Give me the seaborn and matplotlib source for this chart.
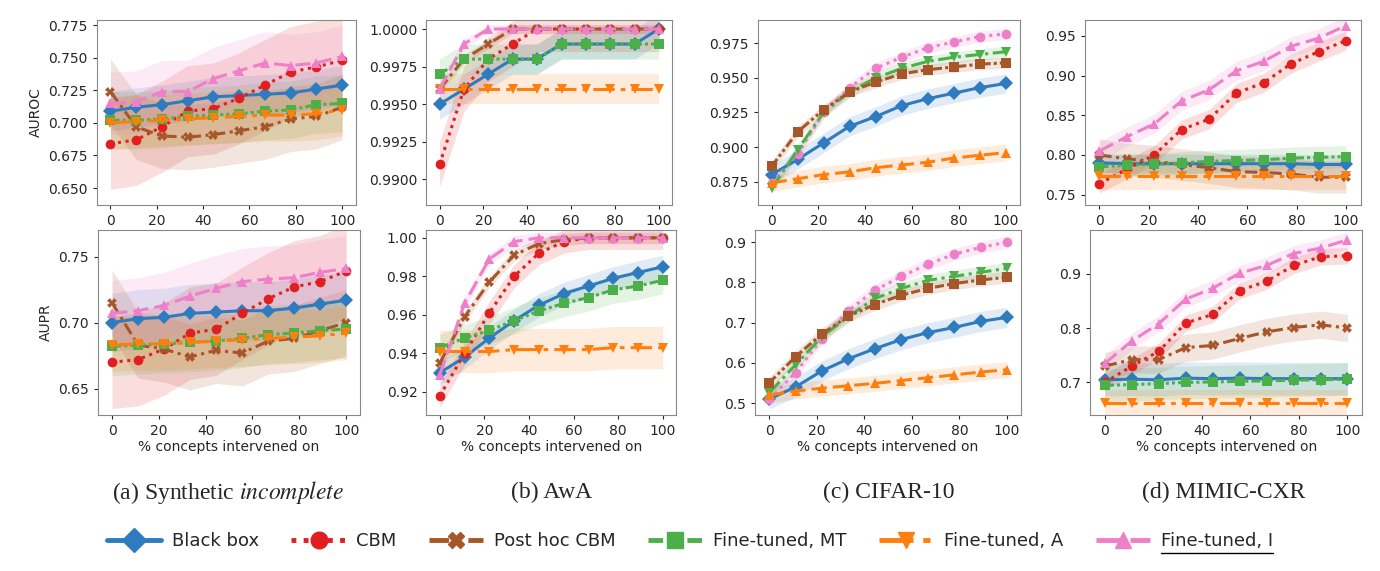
import numpy as np
import matplotlib
matplotlib.use("Agg")
import matplotlib.pyplot as plt
import seaborn as sns
from matplotlib.lines import Line2D

sns.set_style("white")
plt.rcParams["font.family"] = ["DejaVu Sans"]
plt.rcParams["mathtext.fontset"] = "stix"

X = [0, 11.1, 22.2, 33.3, 44.4, 55.6, 66.7, 77.8, 88.9, 100]

SERIES = ["Black box", "CBM", "Post hoc CBM", "Fine-tuned, MT", "Fine-tuned, A", "Fine-tuned, I"]
COLORS = ["#2f7bbf", "#e02020", "#a65628", "#4daf4a", "#ff7f0e", "#ee7fc8"]
MARKERS = ["D", "o", "X", "s", "v", "^"]
DASHES = ["-", (0, (1, 1.5)), (0, (4, 1.5, 1, 1.5)), (0, (3, 1, 1, 1, 1, 1)), (0, (7, 2, 1.5, 2)), (0, (5, 2))]

# panel data: series values per method, half-width of the shaded band
synth_auroc = {
    "Black box": [.709, .712, .714, .717, .720, .721, .722, .723, .726, .729],
    "CBM": [.684, .687, .697, .709, .711, .719, .729, .739, .743, .748],
    "Post hoc CBM": [.724, .697, .690, .689, .691, .694, .697, .703, .705, .712],
    "Fine-tuned, MT": [.702, .702, .703, .705, .706, .707, .709, .710, .714, .715],
    "Fine-tuned, A": [.700, .701, .702, .703, .704, .705, .706, .706, .707, .710],
    "Fine-tuned, I": [.715, .716, .724, .724, .734, .740, .746, .744, .746, .751],
}
synth_auroc_band = [.015, .035, .025, .022, .02, .024]

synth_aupr = {
    "Black box": [.700, .703, .704, .707, .708, .709, .709, .711, .714, .717],
    "CBM": [.670, .672, .680, .692, .695, .707, .718, .727, .731, .739],
    "Post hoc CBM": [.715, .683, .680, .674, .679, .677, .686, .688, .694, .700],
    "Fine-tuned, MT": [.682, .683, .684, .685, .686, .688, .691, .692, .694, .695],
    "Fine-tuned, A": [.683, .684, .684, .685, .686, .687, .688, .689, .690, .692],
    "Fine-tuned, I": [.707, .709, .713, .720, .726, .731, .733, .734, .738, .741],
}
synth_aupr_band = [.022, .035, .025, .022, .02, .025]

awa_auroc = {
    "Black box": [.995, .996, .997, .998, .998, .999, .999, .999, .999, 1.0],
    "CBM": [.991, .996, .998, .999, 1.0, 1.0, 1.0, 1.0, 1.0, 1.0],
    "Post hoc CBM": [.996, .998, .999, 1.0, 1.0, 1.0, 1.0, 1.0, 1.0, 1.0],
    "Fine-tuned, MT": [.997, .998, .998, .998, .998, .999, .999, .999, .999, .999],
    "Fine-tuned, A": [.996, .996, .996, .996, .996, .996, .996, .996, .996, .996],
    "Fine-tuned, I": [.996, .999, 1.0, 1.0, 1.0, 1.0, 1.0, 1.0, 1.0, 1.0],
}
awa_auroc_band = [.001, .0015, .0003, .001, .001, .0003]

awa_aupr = {
    "Black box": [.930, .938, .948, .957, .965, .971, .975, .979, .982, .985],
    "CBM": [.918, .940, .961, .980, .992, .998, 1.0, 1.0, 1.0, 1.0],
    "Post hoc CBM": [.935, .959, .977, .991, .997, .999, 1.0, 1.0, 1.0, 1.0],
    "Fine-tuned, MT": [.943, .948, .952, .957, .962, .966, .969, .973, .975, .978],
    "Fine-tuned, A": [.941, .941, .941, .942, .942, .942, .942, .943, .943, .943],
    "Fine-tuned, I": [.929, .966, .989, .998, 1.0, 1.0, 1.0, 1.0, 1.0, 1.0],
}
awa_aupr_band = [.006, .006, .003, .007, .011, .003]

# CIFAR-10 has five curves with their own styles
CIFAR_COLORS = ["#2f7bbf", "#ee7fc8", "#4daf4a", "#a65628", "#ff7f0e"]
CIFAR_MARKERS = ["D", "o", "v", "s", "^"]
CIFAR_DASHES = ["-", (0, (1, 1.5)), (0, (5, 1.5, 1, 1.5)), (0, (3, 1, 1, 1, 1, 1)), (0, (5, 2))]
cifar_auroc = [
    [.880, .891, .903, .915, .922, .930, .935, .939, .943, .946],
    [.874, .895, .925, .943, .957, .965, .972, .976, .980, .982],
    [.870, .898, .925, .940, .950, .957, .962, .965, .967, .969],
    [.886, .911, .927, .940, .947, .953, .956, .958, .960, .961],
    [.874, .877, .880, .882, .885, .887, .889, .892, .894, .896],
]
cifar_auroc_band = [.007, .004, .004, .004, .006]
cifar_aupr = [
    [.51, .54, .58, .61, .635, .658, .675, .688, .703, .713],
    [.51, .575, .66, .73, .78, .815, .845, .87, .887, .90],
    [.525, .595, .665, .715, .76, .785, .805, .815, .825, .835],
    [.55, .615, .672, .716, .745, .768, .785, .797, .806, .813],
    [.52, .53, .537, .543, .549, .556, .563, .57, .577, .583],
]
cifar_aupr_band = [.025, .015, .015, .015, .02]

mimic_auroc = {
    "Black box": [.790, .789, .789, .789, .789, .789, .789, .789, .788, .788],
    "CBM": [.764, .782, .800, .832, .845, .878, .891, .915, .930, .944],
    "Post hoc CBM": [.800, .795, .792, .788, .784, .779, .778, .776, .772, .772],
    "Fine-tuned, MT": [.785, .787, .788, .790, .792, .793, .794, .796, .797, .798],
    "Fine-tuned, A": [.774, .774, .774, .774, .774, .774, .774, .774, .774, .774],
    "Fine-tuned, I": [.805, .823, .839, .868, .882, .906, .918, .937, .947, .963],
}
mimic_auroc_band = [.012, .012, .02, .014, .018, .012]

mimic_aupr = {
    "Black box": [.705, .706, .705, .708, .707, .708, .707, .707, .707, .707],
    "CBM": [.700, .730, .757, .809, .825, .869, .886, .915, .931, .933],
    "Post hoc CBM": [.730, .742, .742, .764, .768, .781, .793, .801, .806, .800],
    "Fine-tuned, MT": [.695, .696, .698, .700, .701, .702, .703, .704, .705, .706],
    "Fine-tuned, A": [.662, .662, .662, .662, .662, .662, .662, .662, .662, .662],
    "Fine-tuned, I": [.735, .776, .808, .853, .873, .901, .915, .937, .947, .962],
}
mimic_aupr_band = [.03, .015, .025, .03, .025, .015]

CAPTIONS = ["(a) Synthetic $\\it{incomplete}$", "(b) AwA", "(c) CIFAR-10", "(d) MIMIC-CXR"]

fig = plt.figure(figsize=(13.8, 5.71), dpi=100)

boxes = [
    [(0.070, 0.641, 0.188, 0.324), (0.071, 0.273, 0.190, 0.324)],
    [(0.309, 0.641, 0.178, 0.324), (0.309, 0.273, 0.181, 0.324)],
    [(0.549, 0.641, 0.190, 0.324), (0.547, 0.273, 0.193, 0.324)],
    [(0.786, 0.641, 0.200, 0.324), (0.790, 0.273, 0.197, 0.324)],
]
panels = [
    [(synth_auroc, synth_auroc_band, (0.637, 0.779), [.650, .675, .700, .725, .750, .775], "{:.3f}"),
     (synth_aupr, synth_aupr_band, (0.630, 0.770), [.65, .70, .75], "{:.2f}")],
    [(awa_auroc, awa_auroc_band, (0.9883, 1.0006), [.99, .9925, .995, .9975, 1.0], "{:.4f}"),
     (awa_aupr, awa_aupr_band, (0.908, 1.004), [.92, .94, .96, .98, 1.0], "{:.2f}")],
    [(cifar_auroc, cifar_auroc_band, (0.858, 0.992), [.875, .900, .925, .950, .975], "{:.3f}"),
     (cifar_aupr, cifar_aupr_band, (0.47, 0.93), [.5, .6, .7, .8, .9], "{:.1f}")],
    [(mimic_auroc, mimic_auroc_band, (0.737, 0.970), [.75, .80, .85, .90, .95], "{:.2f}"),
     (mimic_aupr, mimic_aupr_band, (0.64, 0.98), [.7, .8, .9], "{:.1f}")],
]

for col in range(4):
    for row in range(2):
        ax = fig.add_axes(boxes[col][row])
        data, band, ylim, yt, fmt = panels[col][row]
        if col == 2:
            styles = zip(data, CIFAR_COLORS, CIFAR_MARKERS, CIFAR_DASHES, band)
        else:
            styles = zip([data[s] for s in SERIES], COLORS, MARKERS, DASHES, band)
        for vals, c, m, d, b in styles:
            vals = np.array(vals)
            ax.fill_between(X, vals - b, vals + b, color=c, alpha=0.15, lw=0)
            sns.lineplot(x=X, y=vals, ax=ax, color=c, marker=m, markersize=7,
                         markeredgewidth=0, linewidth=2.2, dashes=False)
            ax.lines[-1].set_linestyle(d)
        ax.set_ylim(*ylim)
        ax.set_xlim(-6, 106)
        ax.set_xticks([0, 20, 40, 60, 80, 100])
        ax.set_yticks(yt)
        ax.set_yticklabels([fmt.format(v) for v in yt])
        ax.tick_params(labelsize=10, length=3, left=True, bottom=True)
        for sp in ax.spines.values():
            sp.set_edgecolor("#888888")
        if row == 1:
            ax.set_xlabel("% concepts intervened on", fontsize=10, labelpad=1)
        if col == 0:
            ax.set_ylabel("AUROC" if row == 0 else "AUPR", fontsize=10)

cap_x = [0.165, 0.400, 0.644, 0.887]
for cx, cap in zip(cap_x, CAPTIONS):
    fig.text(cx, 0.138, cap, ha="center", va="center", fontsize=17, family="Liberation Serif")

handles = [Line2D([], [], color=c, marker=m, linestyle=d, linewidth=3.5, markersize=12)
           for c, m, d in zip(COLORS, MARKERS, DASHES)]
leg = fig.legend(handles, SERIES, loc="center", bbox_to_anchor=(0.5, 0.052), ncol=6,
                 frameon=False, fontsize=13, handlelength=3.0, columnspacing=1.8,
                 handletextpad=0.6)
# underline the last legend entry as in the reference
leg.get_texts()[-1].set_text("Fine-tuned, I")
fig.canvas.draw()
bb = leg.get_texts()[-1].get_window_extent().transformed(fig.transFigure.inverted())
fig.add_artist(Line2D([bb.x0, bb.x1], [bb.y0 - 0.004, bb.y0 - 0.004],
                      transform=fig.transFigure, color="black", lw=1))
fig.savefig("out.png", dpi=100)
